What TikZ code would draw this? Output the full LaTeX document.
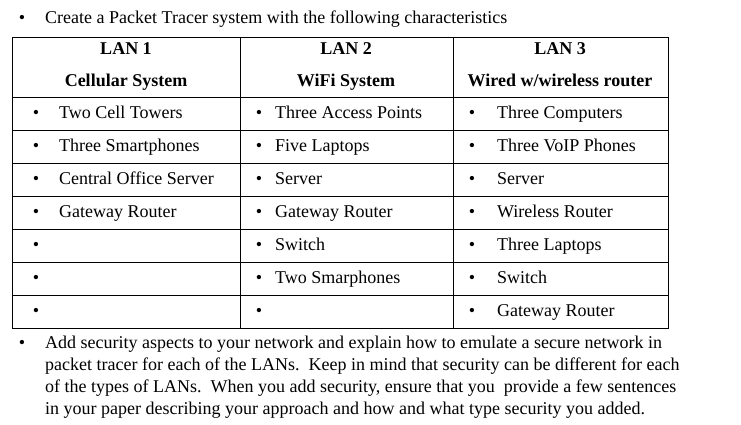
\documentclass[tikz,border=0pt]{standalone}
\usepackage{fontspec}
\setmainfont{Liberation Serif}
\begin{document}
\begin{tikzpicture}[x=1pt,y=-1pt,
  txt/.style={anchor=base west,inner sep=0pt,font=\fontsize{18}{20}\selectfont},
  hd/.style={anchor=base,inner sep=0pt,font=\fontsize{18}{20}\selectfont\bfseries},
  bul/.style={anchor=base,inner sep=0pt,font=\fontsize{18}{20}\selectfont},
  grid/.style={draw=black,line width=0.8pt}]
\useasboundingbox (0,0) rectangle (741,424);
\fill[white] (0,0) rectangle (741,424);
% top bullet
\node[bul] (b0) at (22,23) {•};
\node[txt] (t0) at (45,23) {Create a Packet Tracer system with the following characteristics};
% table grid
\draw[grid] (12,37) rectangle (668,328);
\foreach \yy in {97,130,163,196,229,262,295} \draw[grid] (12,\yy) -- (668,\yy);
\draw[grid] (240,37) -- (240,328);
\draw[grid] (453,37) -- (453,328);
% headers
\node[hd] (h1a) at (126,54) {LAN 1};
\node[hd] (h1b) at (126,86) {Cellular System};
\node[hd] (h2a) at (346,54) {LAN 2};
\node[hd] (h2b) at (346,86) {WiFi System};
\node[hd] (h3a) at (560,54) {LAN 3};
\node[hd] (h3b) at (560,86) {Wired w/wireless router};
% column 1
\foreach \yy/\t [count=\i] in {118/Two Cell Towers,151/Three Smartphones,184/Central Office Server,217/Gateway Router}
  {\node[bul] (c1b\i) at (36,\yy) {•}; \node[txt] (c1t\i) at (59,\yy) {\t};}
\foreach \yy [count=\i] in {250,283,316} \node[bul] (c1e\i) at (36,\yy) {•};
% column 2
\foreach \yy/\t [count=\i] in {118/Three Access Points,151/Five Laptops,184/Server,217/Gateway Router,250/Switch,283/Two Smarphones}
  {\node[bul] (c2b\i) at (259,\yy) {•}; \node[txt] (c2t\i) at (275,\yy) {\t};}
\node[bul] (c2e) at (259,316) {•};
% column 3
\foreach \yy/\t [count=\i] in {118/Three Computers,151/Three VoIP Phones,184/Server,217/Wireless Router,250/Three Laptops,283/Switch,316/Gateway Router}
  {\node[bul] (c3b\i) at (472,\yy) {•}; \node[txt] (c3t\i) at (497,\yy) {\t};}
% bottom bullet
\node[bul] (b1) at (22,348) {•};
\node[txt] (l1) at (45,348) {Add security aspects to your network and explain how to emulate a secure network in};
\node[txt] (l2) at (45,370) {packet tracer for each of the LANs.\ \ Keep in mind that security can be different for each};
\node[txt] (l3) at (45,392) {of the types of LANs.\ \ When you add security, ensure that you\ \ provide a few sentences};
\node[txt] (l4) at (45,414) {in your paper describing your approach and how and what type security you added.};
\end{tikzpicture}
\end{document}
